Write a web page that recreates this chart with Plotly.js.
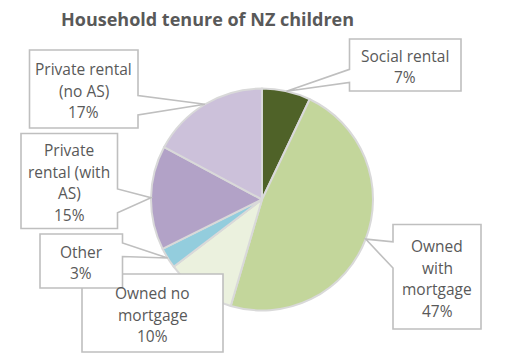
<!DOCTYPE html>
<html>
<head>
<meta charset="utf-8">
<script src="https://cdn.plot.ly/plotly-3.0.1.min.js"></script>
<style>html,body{margin:0;padding:0;background:#fff;}#chart{width:524px;height:355px;}</style>
</head>
<body>
<div id="chart"></div>
<script>
// ---- data ----
const categories = ["Social rental", "Owned with mortgage", "Owned no mortgage", "Other", "Private rental (with AS)", "Private rental (no AS)"];
const values = [7, 47, 10, 3, 15, 17];
const labelLines = [
  ["Social rental"],
  ["Owned", "with", "mortgage"],
  ["Owned no", "mortgage"],
  ["Other"],
  ["Private", "rental (with", "AS)"],
  ["Private rental", "(no AS)"]
];
const colors = ["#4f6228", "#c3d69b", "#ebf1de", "#93cddd", "#b2a2c7", "#ccc1da"];
const titleText = "Household tenure of NZ children";

// ---- layout helpers (pixel -> paper) ----
const W = 524, H = 355;
const px = x => x / W;
const py = y => 1 - y / H;
const cx = 262, cy = 199.5, R = 111;
// callout boxes [x0, y0, x1, y1] in pixels
const boxes = [
  [349.5, 39, 461, 91],
  [393, 224.5, 481, 329],
  [82, 274, 223, 352],
  [40, 234, 122.5, 288],
  [21, 133.5, 117.5, 228.5],
  [29.5, 50, 138, 128]
];
const lineH = 21.5;
const textDy = 1.5;
const textFont = {family: "Open Sans, sans-serif", size: 15.5, color: "#595959"};
const boxLine = {color: "#bfbfbf", width: 1.6};

const total = values.reduce((a, b) => a + b, 0);
let cum = 0;
const shapes = [];
const annotations = [];
values.forEach((v, i) => {
  const mid = (cum + v / 2) / total * 2 * Math.PI;
  cum += v;
  const tx = cx + R * Math.sin(mid), ty = cy - R * Math.cos(mid);
  const [x0, y0, x1, y1] = boxes[i];
  const inside = tx > x0 && tx < x1 && ty > y0 && ty < y1;
  const P = (x, y) => px(x) + "," + py(y);
  let path;
  const h = y1 - y0;
  const fr = ty > (y0 + y1) / 2 ? [7 / 12, 5 / 6] : [1 / 6, 5 / 12];
  const b1 = y0 + fr[0] * h, b2 = y0 + fr[1] * h;
  if (inside) {
    path = "M" + P(x0, y0) + " L" + P(x1, y0) + " L" + P(x1, y1) + " L" + P(x0, y1) + " Z";
  } else if (tx < x0) {
    path = "M" + P(x0, y0) + " L" + P(x1, y0) + " L" + P(x1, y1) + " L" + P(x0, y1) +
      " L" + P(x0, b2) + " L" + P(tx, ty) + " L" + P(x0, b1) + " Z";
  } else {
    path = "M" + P(x0, y0) + " L" + P(x1, y0) + " L" + P(x1, b1) + " L" + P(tx, ty) +
      " L" + P(x1, b2) + " L" + P(x1, y1) + " L" + P(x0, y1) + " Z";
  }
  shapes.push({type: "path", xref: "paper", yref: "paper", path: path,
    fillcolor: "#ffffff", line: boxLine, layer: "above"});
  const lines = labelLines[i].concat([v + "%"]);
  const bx = (x0 + x1) / 2, by = (y0 + y1) / 2 + textDy;
  lines.forEach((t, j) => {
    annotations.push({xref: "paper", yref: "paper", x: px(bx), y: py(by + (j - (lines.length - 1) / 2) * lineH),
      text: t, showarrow: false, xanchor: "center", yanchor: "middle", font: textFont});
  });
});
annotations.push({xref: "paper", yref: "paper", x: px(207), y: py(19), text: titleText, showarrow: false,
  xanchor: "center", yanchor: "middle",
  font: {family: "Open Sans, sans-serif", size: 18, color: "#595959", weight: 700}});

const trace = {
  type: "pie",
  labels: categories,
  values: values,
  sort: false,
  direction: "clockwise",
  rotation: 0,
  textinfo: "none",
  hoverinfo: "none",
  showlegend: false,
  marker: {colors: colors, line: {color: "#d9d9d9", width: 2}},
  domain: {x: [px(cx - R), px(cx + R)], y: [py(cy + R), py(cy - R)]}
};

Plotly.newPlot("chart", [trace], {
  width: W, height: H,
  margin: {l: 0, r: 0, t: 0, b: 0},
  paper_bgcolor: "#ffffff",
  showlegend: false,
  shapes: shapes,
  annotations: annotations
}, {staticPlot: true});
</script>
</body>
</html>
